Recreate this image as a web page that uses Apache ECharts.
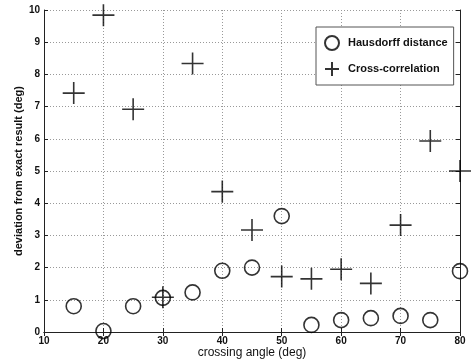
<!DOCTYPE html>
<html><head><meta charset="utf-8">
<script src="https://cdn.jsdelivr.net/npm/echarts@6/dist/echarts.min.js"></script>
<style>html,body{margin:0;padding:0;background:#fff}#c{width:474px;height:362px}</style>
</head><body><div id="c"></div>
<script>
var angles = [15, 20, 25, 30, 35, 40, 45, 50, 55, 60, 65, 70, 75, 80];
var hausdorff = [0.8, 0.03, 0.8, 1.06, 1.23, 1.9, 2.0, 3.6, 0.22, 0.37, 0.43, 0.5, 0.37, 1.89];
var crossCorr = [7.42, 9.84, 6.92, 1.08, 8.34, 4.36, 3.17, 1.72, 1.65, 1.95, 1.51, 3.32, 5.93, 5.0];
var xTicks = [10, 20, 30, 40, 50, 60, 70, 80];
var yTicks = [0, 1, 2, 3, 4, 5, 6, 7, 8, 9, 10];

function pairs(xs, ys) { return xs.map(function (x, i) { return [x, ys[i]]; }); }
var font = 'Liberation Sans, Arial, sans-serif';
var axisLine = { show: true, lineStyle: { color: '#222', width: 1 } };
var tick = { show: true, inside: true, length: 4, lineStyle: { color: '#222' } };
var split = { show: true, lineStyle: { color: '#999', type: [1, 2], width: 1 } };
var lbl = { color: '#111', fontFamily: font, fontWeight: 'bold', fontSize: 10 };

var chart = echarts.init(document.getElementById('c'));
chart.setOption({
  animation: false,
  grid: { left: 44, right: 14, top: 10, bottom: 30, containLabel: false, outerBoundsMode: 'none' },
  xAxis: [
    { type: 'value', min: xTicks[0], max: xTicks[xTicks.length - 1], interval: 10,
      axisLine: axisLine, axisTick: tick, splitLine: split,
      axisLabel: Object.assign({ margin: 4 }, lbl),
      name: 'crossing angle (deg)', nameLocation: 'middle', nameGap: 15, nameMoveOverlap: false,
      nameTextStyle: { color: '#111', fontFamily: font, fontSize: 12 } },
    { type: 'value', position: 'top', min: 10, max: 80, interval: 10,
      axisLine: axisLine, axisTick: tick, splitLine: { show: false }, axisLabel: { show: false } }
  ],
  yAxis: [
    { type: 'value', min: yTicks[0], max: yTicks[yTicks.length - 1], interval: 1,
      axisLine: axisLine, axisTick: tick, splitLine: split,
      axisLabel: Object.assign({ margin: 4 }, lbl),
      name: 'deviation from exact result (deg)', nameLocation: 'middle', nameGap: 20, nameMoveOverlap: false,
      nameTextStyle: { color: '#111', fontFamily: font, fontWeight: 'bold', fontSize: 11 } },
    { type: 'value', position: 'right', min: 0, max: 10, interval: 1,
      axisLine: axisLine, axisTick: tick, splitLine: { show: false }, axisLabel: { show: false } }
  ],
  legend: {
    orient: 'vertical', left: 316, top: 27,
    borderColor: '#555', borderWidth: 1, backgroundColor: '#fff',
    padding: [8, 6, 8, 8], itemGap: 10, itemWidth: 22, itemHeight: 14,
    textStyle: { color: '#111', fontFamily: font, fontWeight: 'bold', fontSize: 11 },
    data: ['Hausdorff distance', 'Cross-correlation']
  },
  series: [
    { name: 'Hausdorff distance', type: 'scatter', data: pairs(angles, hausdorff),
      symbol: 'circle', symbolSize: 15,
      itemStyle: { color: 'rgba(0,0,0,0)', borderColor: '#000', borderWidth: 1.6 } },
    { name: 'Cross-correlation', type: 'scatter', data: pairs(angles, crossCorr),
      symbol: 'path://M0,10L20,10M10,0L10,20', symbolSize: 22,
      itemStyle: { color: 'rgba(0,0,0,0)', borderColor: '#000', borderWidth: 1.6 } }
  ]
});
</script></body></html>
